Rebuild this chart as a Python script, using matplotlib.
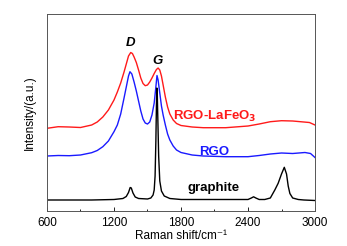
import matplotlib
matplotlib.use('Agg')
import matplotlib.pyplot as plt
from matplotlib.ticker import MultipleLocator

plt.rcParams['font.family'] = ['Liberation Sans', 'DejaVu Sans']

# Raman spectra (arbitrary units, stacked)
x_red = [600, 650, 700, 800, 900, 1000, 1050, 1100, 1150, 1200, 1230, 1260, 1290,
         1310, 1330, 1350, 1365, 1380, 1400, 1420, 1440, 1460, 1480, 1500, 1520,
         1540, 1560, 1580, 1595, 1610, 1625, 1640, 1660, 1680, 1700, 1730, 1760,
         1800, 1900, 2000, 2200, 2400, 2500, 2600, 2700, 2800, 2900, 2950, 3000]
y_red = [82.7, 83.5, 84.3, 84, 83.5, 86, 89, 94, 101, 111, 119, 128, 139,
         147, 155, 158.5, 157.5, 154, 148.5, 141, 133, 127.5, 125.3, 126, 129,
         133, 137.5, 141.5, 143, 141, 135, 126, 114, 104, 97, 91, 87.5,
         85.5, 84, 83.3, 83.3, 85, 87, 89.3, 90.3, 90, 89, 88.5, 86]

x_blue = [600, 700, 800, 900, 1000, 1050, 1100, 1150, 1200, 1230, 1260, 1290, 1310,
          1330, 1343, 1360, 1380, 1400, 1420, 1440, 1460, 1480, 1500, 1520, 1540,
          1560, 1575, 1585, 1595, 1610, 1625, 1640, 1660, 1680, 1700, 1730, 1760,
          1800, 1900, 2000, 2200, 2400, 2500, 2600, 2700, 2800, 2910, 2960, 3000]
y_blue = [55, 55.5, 55.3, 56, 58.3, 60.5, 64.3, 70, 79.3, 86, 97, 113, 124,
          135, 139.3, 137, 129, 120, 110, 100, 92, 88, 87, 89, 96,
          108, 124, 135.5, 131, 118, 105, 96, 86, 77, 71, 65, 61,
          58.5, 56, 55, 54.3, 54.3, 55.5, 57, 58, 57.5, 58.5, 57.5, 53.5]

x_gra = [600, 1000, 1200, 1280, 1310, 1330, 1345, 1355, 1370, 1390, 1420, 1500,
         1530, 1550, 1560, 1568, 1575, 1580, 1584, 1588, 1593, 1600, 1610, 1625,
         1650, 1700, 1800, 2400, 2430, 2450, 2470, 2500, 2550, 2600, 2640, 2670,
         2700, 2725, 2745, 2760, 2775, 2800, 2850, 2900, 3000]
y_gra = [11, 11, 11.5, 12.5, 14.5, 18.5, 23.5, 23, 18, 14, 12.5, 12,
         13, 16, 21, 35, 70, 105, 123, 115, 90, 55, 30, 20,
         15, 12.5, 11.5, 11.5, 13, 14.2, 13, 11.5, 11.5, 13, 21, 27.7,
         37, 43.7, 37, 25, 17.5, 13, 11.5, 11, 10.5]

fig = plt.figure(figsize=(3.47, 2.46), dpi=100)
ax = fig.add_axes([0.1354, 0.1423, 0.7724, 0.8007])

ax.plot(x_red, y_red, color='#ff1a1a', lw=1.0)
ax.plot(x_blue, y_blue, color='#1a1aff', lw=1.0)
ax.plot(x_gra, y_gra, color='black', lw=1.0)

ax.set_xlim(600, 3000)
ax.set_ylim(0, 197)
ax.xaxis.set_major_locator(MultipleLocator(600))
ax.xaxis.set_minor_locator(MultipleLocator(300))
ax.tick_params(axis='x', which='both', direction='in', labelsize=8.5, pad=4)
ax.tick_params(axis='x', which='major', length=3, width=0.6)
ax.tick_params(axis='x', which='minor', length=1.8, width=0.6)
ax.set_yticks([])
for s in ax.spines.values():
    s.set_color('#555555')
    s.set_linewidth(0.7)

ax.set_xlabel('Raman shift/cm⁻¹', fontsize=8.5, labelpad=1)
ax.set_ylabel('Intensity/(a.u.)', fontsize=8.5, labelpad=8)

ax.text(1352, 168, 'D', fontsize=9.5, fontweight='bold', style='italic', ha='center', va='center')
ax.text(1592, 150, 'G', fontsize=9.5, fontweight='bold', style='italic', ha='center', va='center')
ax.text(2105, 95, 'RGO-LaFeO$_\\mathbf{3}$', fontsize=9.5, fontweight='bold', color='#ff1a1a',
        ha='center', va='center')
ax.text(2101, 59, 'RGO', fontsize=9.5, fontweight='bold', color='#1a1aff', ha='center', va='center')
ax.text(2093, 23, 'graphite', fontsize=9.5, fontweight='bold', color='black', ha='center', va='center')

fig.savefig('out.png', dpi=100)
